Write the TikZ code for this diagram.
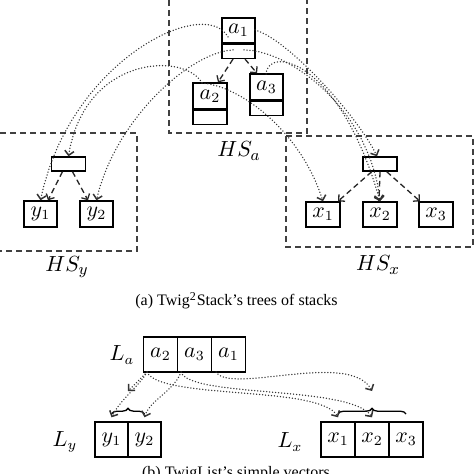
\documentclass[tikz,border=0pt]{standalone}
\usepackage{fontspec}
\setmainfont{Liberation Serif}
\usetikzlibrary{decorations.pathreplacing,calc,arrows.meta}
\begin{document}
\begin{tikzpicture}[x=0.5pt,y=-0.5pt,
  >={Straight Barb[length=2.2pt,width=4.6pt]},
  box/.style={draw, line width=0.7pt, inner sep=0pt, font=\fontsize{10.5}{12}\selectfont},
  lbl/.style={inner sep=0pt, font=\fontsize{10.5}{12}\selectfont},
  hslbl/.style={inner sep=0pt, font=\fontsize{11}{13}\selectfont},
  captxt/.style={inner sep=0pt, anchor=base, font=\fontsize{8}{10}\selectfont},
  hsbox/.style={draw=black!75, line width=0.65pt, dash pattern=on 3pt off 2pt},
  dedge/.style={->, draw=black!85, line width=0.65pt, dash pattern=on 2.8pt off 1.8pt},
  dotedge/.style={->, draw=black!80, line width=0.75pt, line cap=round, dash pattern=on 0pt off 1.5pt},
  brc/.style={draw, line width=0.65pt, decorate, decoration={brace, amplitude=2.8pt}},
  sepline/.style={line width=1.3pt}
]
\useasboundingbox (0,0) rectangle (474,474);
\fill[white] (0,0) rectangle (474,474);

% HS boxes
\draw[hsbox] (169,-10) -- (169,133) -- (307,133) -- (307,-10);
\draw[hsbox] (-10,133) -- (137,133) -- (137,251) -- (-10,251);
\draw[hsbox] (286,136) rectangle (473,247);

\node[hslbl] (hsa) at (239,151) {$HS_a$};
\node[hslbl] (hsy) at (67,267) {$HS_y$};
\node[hslbl] (hsx) at (378,265) {$HS_x$};

% stack tree of a
\node[box, minimum width=16.5pt, minimum height=12.5pt] (a1) at (238.5,30.5) {$a_1$};
\node[box, minimum width=16.5pt, minimum height=7pt, anchor=north] (a1s) at (a1.south) {};
\draw[sepline] (a1.south west) -- (a1.south east);
\node[box, minimum width=17pt, minimum height=13pt] (a2) at (210,96) {$a_2$};
\node[box, minimum width=17pt, minimum height=7pt, anchor=north] (a2s) at (a2.south) {};
\draw[sepline] (a2.south west) -- (a2.south east);
\node[box, minimum width=16.5pt, minimum height=13pt] (a3) at (266.5,87) {$a_3$};
\node[box, minimum width=16.5pt, minimum height=7pt, anchor=north] (a3s) at (a3.south) {};
\draw[sepline] (a3.south west) -- (a3.south east);

% HS_y
\node[box, minimum width=17pt, minimum height=7pt] (sy) at (68.5,164) {};
\node[box, minimum width=16.5pt, minimum height=13pt] (y1) at (40.5,214) {$y_1$};
\node[box, minimum width=16.5pt, minimum height=13pt] (y2) at (96.5,214) {$y_2$};

% HS_x
\node[box, minimum width=17pt, minimum height=7pt] (sx) at (380,164) {};
\node[box, minimum width=17pt, minimum height=12.5pt] (x1) at (323,214.5) {$x_1$};
\node[box, minimum width=17pt, minimum height=12.5pt] (x2) at (380,214.5) {$x_2$};
\node[box, minimum width=17pt, minimum height=12.5pt] (x3) at (436,214.5) {$x_3$};

% dashed tree edges
\draw[dedge] ([xshift=-2.75pt]a1s.south) -- ([xshift=4pt]a2.north);
\draw[dedge] ([xshift=3.25pt]a1s.south) -- ([xshift=-4.75pt]a3.north);
\draw[dedge] ([xshift=-3pt]sy.south) -- ([xshift=3.75pt]y1.north);
\draw[dedge] ([xshift=2pt]sy.south) -- ([xshift=-4.25pt]y2.north);
\draw[dedge] ([xshift=-4.15pt]sx.south) -- ([xshift=7.5pt]x1.north);
\draw[dedge] (sx.south) -- ([xshift=-0.5pt]x2.north);
\draw[dedge] ([xshift=3.35pt]sx.south) -- ([xshift=-8pt]x3.north);

% dotted pointers (top)
\coordinate (a1p) at (228,37);
\coordinate (a1r) at (255,30);
\coordinate (a1sl) at (233,50);
\coordinate (a1sr) at (244,50);
\coordinate (a2p) at (202,83);
\coordinate (a3p) at (266,74);
\draw[dotedge] (a1p) .. controls (205,-5) and (70,60) .. (y1.north);
\draw[dotedge] (a2p) .. controls (185,52) and (85,55) .. (sy.north);
\draw[dotedge] (a2p) .. controls (240,86) and (300,130) .. (x1.north);
\draw[dotedge] (a1sl) .. controls (190,52) and (115,120) .. (y2.north);
\draw[dotedge] (a1sr) .. controls (290,50) and (370,110) .. (x2.north);
\draw[dotedge] (a1r) .. controls (290,40) and (360,120) .. ([xshift=-1.5pt]sx.north);
\draw[dotedge] (a3p) .. controls (268,45) and (340,60) .. (x2.north);

% captions
\node[captxt] (capa) at (236.5,306) {(a) Twig\textsuperscript{2}Stack’s trees of stacks};
\node[captxt] (capb) at (236,477) {(b) TwigList’s simple vectors};

% simple vectors
\node[lbl] (La) at (122,355) {$L_a$};
\node[box, minimum width=17pt, minimum height=17.5pt] (la2) at (160.5,354.5) {$a_2$};
\node[box, minimum width=17pt, minimum height=17.5pt] (la3) at (194.5,354.5) {$a_3$};
\node[box, minimum width=17pt, minimum height=17.5pt] (la1) at (228.5,354.5) {$a_1$};

\node[lbl] (Ly) at (65,442) {$L_y$};
\node[box, minimum width=16.5pt, minimum height=17.5pt] (ly1) at (111.5,439.5) {$y_1$};
\node[box, minimum width=16.5pt, minimum height=17.5pt] (ly2) at (144.5,439.5) {$y_2$};

\node[lbl] (Lx) at (290,442) {$L_x$};
\node[box, minimum width=17pt, minimum height=17.5pt] (lx1) at (338,439.5) {$x_1$};
\node[box, minimum width=17pt, minimum height=17.5pt] (lx2) at (372,439.5) {$x_2$};
\node[box, minimum width=17pt, minimum height=17.5pt] (lx3) at (406,439.5) {$x_3$};

% braces
\coordinate (byl) at (111.5,414);
\coordinate (byr) at (144.5,414);
\coordinate (bxl) at (338,414);
\coordinate (bxr) at (406,414);
\draw[brc] (byl) -- (byr);
\draw[brc] (bxl) -- (bxr);
\coordinate (byt) at (128,391);
\coordinate (bxt) at (372,391);

% dotted pointers (bottom)
\coordinate (la2b) at (147,372);
\coordinate (la3b) at (181,372);
\coordinate (la1b) at (216,372);
\draw[dotedge] (la2b) -- (byt);
\draw[dotedge] (la2b) .. controls (140,385) and (120,400) .. ([yshift=2pt]ly1.north);
\draw[dotedge] (la3b) .. controls (175,390) and (150,400) .. ([yshift=2pt]ly2.north);
\draw[dotedge] (la2b) .. controls (160,400) and (320,385) .. ([yshift=2pt]lx1.north);
\draw[dotedge] (la3b) .. controls (190,398) and (350,385) .. ([yshift=2pt]lx2.north);
\draw[dotedge] (la1b) .. controls (230,395) and (350,350) .. (bxt);
\end{tikzpicture}
\end{document}
